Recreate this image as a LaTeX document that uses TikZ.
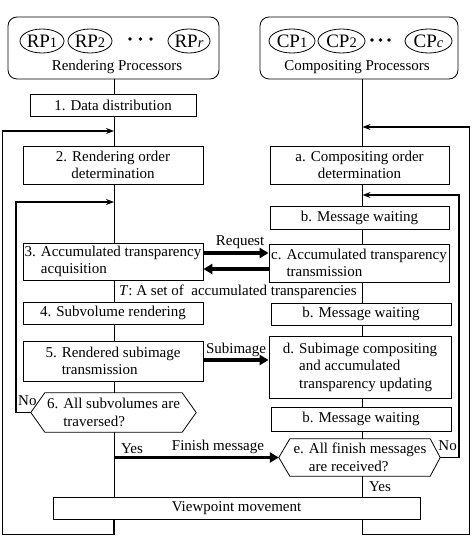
\documentclass[tikz,border=0pt]{standalone}
\usepackage{fontspec}
\setmainfont{Liberation Serif}
\usetikzlibrary{arrows.meta,calc,shapes.geometric}
\newcommand\bodyfont{\fontsize{15}{17.5}\selectfont}
\newcommand\ellfont{\fontsize{19}{19}\selectfont}
\newcommand\subfont{\fontsize{14.5}{14.5}\selectfont}
\begin{document}
\begin{tikzpicture}[x=1pt,y=-1pt,
  boxline/.style={draw, line width=0.8pt},
  box/.style={boxline, inner sep=0pt, font=\bodyfont, align=center},
  hexnode/.style={inner sep=0pt, font=\bodyfont, align=left},
  grp/.style={boxline, rounded corners=9pt, inner sep=0pt},
  proc/.style={boxline, ellipse, inner sep=0pt, minimum width=44pt, minimum height=24pt, font=\ellfont},
  conn/.style={line width=0.9pt},
  loopline/.style={line width=1.5pt, -{Stealth[length=8pt,width=6pt]}},
  bigarrow/.style={line width=3.4pt, -{Triangle[length=9pt,width=10pt]}},
  lbl/.style={font=\bodyfont, inner sep=0pt},
  dotstyle/.style={fill, circle, inner sep=0pt, minimum size=3.6pt}]
\useasboundingbox (0,0) rectangle (474,537);

% column lines
\coordinate (L) at (114,0);
\coordinate (R) at (362.5,0);

% processor groups
\node[grp, minimum width=211pt, minimum height=62pt] (rpbox) at (113.5,48) {};
\node[proc] (rp1) at (42,41) {RP{\subfont 1}};
\node[proc] (rp2) at (90,41) {RP{\subfont 2}};
\node[proc, minimum width=42pt] (rpr) at (189,41) {RP{\subfont\itshape r}};
\node[dotstyle] (rpd1) at (130,39) {};
\node[dotstyle] (rpd2) at (140.5,39) {};
\node[dotstyle] (rpd3) at (151,39) {};
\node[lbl] (rplabel) at (117,67) {Rendering Processors};

\node[grp, minimum width=198pt, minimum height=62pt] (cpbox) at (359,48) {};
\node[proc, minimum width=46pt] (cp1) at (292,41) {CP{\subfont 1}};
\node[proc, minimum width=47pt] (cp2) at (341.5,41) {CP{\subfont 2}};
\node[proc, minimum width=47pt] (cpc) at (428.5,41) {CP{\subfont\itshape c}};
\node[dotstyle] (cpd1) at (372,40) {};
\node[dotstyle] (cpd2) at (380.5,40) {};
\node[dotstyle] (cpd3) at (389,40) {};
\node[lbl] (cplabel) at (357,67) {Compositing Processors};

% left column
\node[box, minimum width=166pt, minimum height=22pt] (b1) at (113,105) {1. Data distribution};
\node[box, minimum width=180pt, minimum height=38pt] (b2) at (113,165) {2. Rendering order\\determination};
\node[box, minimum width=180pt, minimum height=37pt, align=left] (b3) at (113,261.5) {3. Accumulated transparency\\\hphantom{3. }acquisition};
\node[box, minimum width=180pt, minimum height=22pt] (b4) at (113,313) {4. Subvolume rendering};
\node[box, minimum width=180pt, minimum height=40pt, align=left] (b5) at (113,361) {5. Rendered subimage\\\hphantom{5. }transmission};
\node[hexnode, minimum width=137pt, minimum height=39pt] (h6) at (113.5,412.5) {6. All subvolumes are\\\hphantom{6. }traversed?};
\coordinate (h6W) at ($(h6.west)+(-14,0)$);
\coordinate (h6E) at ($(h6.east)+(14,0)$);
\draw[boxline] (h6.north west) -- (h6.north east) -- (h6E) -- (h6.south east) -- (h6.south west) -- (h6W) -- cycle;

% right column
\node[box, minimum width=179pt, minimum height=38pt] (ba) at (359.5,165) {a. Compositing order\\determination};
\node[box, minimum width=179pt, minimum height=23pt] (bb1) at (359.5,217.5) {b. Message waiting};
\node[box, minimum width=180pt, minimum height=38pt, align=left] (bc) at (359,263) {c. Accumulated transparency\\\hphantom{c. }transmission};
\node[box, minimum width=180pt, minimum height=22pt] (bb2) at (361,314) {b. Message waiting};
\node[box, minimum width=182pt, minimum height=62pt, align=left] (bd) at (360,367) {d. Subimage compositing\\\hphantom{d. }and accumulated\\\hphantom{d. }transparency updating};
\node[box, minimum width=180pt, minimum height=24pt] (bb3) at (361,419) {b. Message waiting};
\node[hexnode, minimum width=140pt, minimum height=37pt] (he) at (360,457.5) {e. All finish messages\\\hphantom{e. }are received?};
\coordinate (heW) at ($(he.west)+(-11,0)$);
\coordinate (heE) at ($(he.east)+(10,0)$);
\draw[boxline] (he.north west) -- (he.north east) -- (heE) -- (he.south east) -- (he.south west) -- (heW) -- cycle;

% bottom
\node[box, minimum width=367pt, minimum height=22pt] (view) at (236.5,508) {Viewpoint movement};

% left column connectors
\draw[conn] (rpbox.south -| L) -- (b1.north -| L);
\draw[conn] (b1.south -| L) -- (b2.north -| L);
\draw[conn] (b2.south -| L) -- (b3.north -| L);
\draw[conn] (b3.south -| L) -- (b4.north -| L);
\draw[conn] (b4.south -| L) -- (b5.north -| L);
\draw[conn] (b5.south -| L) -- (h6.north -| L);
\draw[conn] (h6.south -| L) -- (view.north -| L);

% right column connectors
\draw[conn] (cpbox.south -| R) -- (ba.north -| R);
\draw[conn] (ba.south -| R) -- (bb1.north -| R);
\draw[conn] (bb1.south -| R) -- (bc.north -| R);
\draw[conn] (bc.south -| R) -- (bb2.north -| R);
\draw[conn] (bb2.south -| R) -- (bd.north -| R);
\draw[conn] (bd.south -| R) -- (bb3.north -| R);
\draw[conn] (bb3.south -| R) -- (he.north -| R);
\draw[conn] (he.south -| R) -- (view.north -| R);

% outer loops
\coordinate (jL1) at (114,131);
\coordinate (cL1) at (114,534.5);
\coordinate (cL2) at (2.5,534.5);
\coordinate (cL3) at (2.5,131);
\draw[loopline] (view.south -| L) -- (cL1) -- (cL2) -- (cL3) -- (jL1);

\coordinate (jR1) at (362.5,127);
\coordinate (cR1) at (362.5,534.5);
\coordinate (cR2) at (469.5,534.5);
\coordinate (cR3) at (469.5,127);
\draw[loopline] (view.south -| R) -- (cR1) -- (cR2) -- (cR3) -- (jR1);

% inner loops
\coordinate (jL2) at (114,202);
\coordinate (xL) at (16,0);
\draw[loopline] (h6W) -- (h6W -| xL) -- (jL2 -| xL) -- (jL2);
\node[lbl, anchor=south west] (no1) at (18,406) {No};

\coordinate (jR2) at (362.5,195);
\coordinate (xR) at (459,0);
\draw[loopline] (heE) -- (heE -| xR) -- (jR2 -| xR) -- (jR2);
\node[lbl, anchor=south east] (no2) at (457,451) {No};

% messages
\coordinate (yReq) at (0,253);
\coordinate (yRet) at (0,269);
\coordinate (ySub) at (0,360);
\draw[bigarrow] (b3.east |- yReq) -- (bc.west |- yReq);
\node[lbl] (req) at (240,242) {Request};
\draw[bigarrow] (bc.west |- yRet) -- (b3.east |- yRet);
\node[lbl, anchor=west] (tset) at (119,292) {\textit{T}: A set of\ \ accumulated transparencies};
\draw[bigarrow] (b5.east |- ySub) -- (bd.west |- ySub);
\node[lbl] (sub) at (236,350) {Subimage};
\draw[bigarrow] (heW -| L) -- (heW);
\node[lbl] (fin) at (218,447) {Finish message};
\node[lbl] (yes1) at (132,449) {Yes};
\node[lbl] (yes2) at (380,487) {Yes};
\end{tikzpicture}
\end{document}
